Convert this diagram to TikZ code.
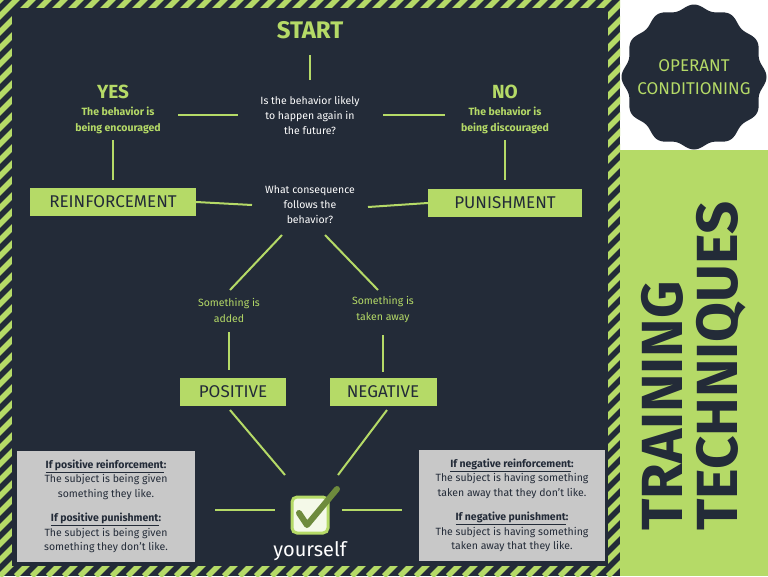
\documentclass[tikz,border=0pt]{standalone}
\usepackage{fontspec}
\setmainfont{Fira Sans}
\definecolor{dk}{HTML}{232B38}
\definecolor{gr}{HTML}{B5DA67}
\definecolor{gy}{HTML}{C8C8C8}
\definecolor{ck}{HTML}{6E8B3D}
\begin{document}
\begin{tikzpicture}[x=1pt,y=-1pt,
  ln/.style={draw=gr,line width=2pt},
  gbox/.style={fill=gr,text=dk,font=\fontsize{17}{18}\selectfont,minimum height=28pt,inner xsep=4pt},
  qtext/.style={text=white,font=\fontsize{10.5}{15}\selectfont,align=center},
  gtext/.style={text=gr,font=\fontsize{10.5}{16}\selectfont\bfseries,align=center},
  ttl/.style={text=gr,font=\fontsize{19}{20}\selectfont\bfseries},
  note/.style={fill=gy,text=dk,font=\fontsize{10.5}{14.5}\selectfont,align=center,inner sep=0pt}]
\useasboundingbox (0,0) rectangle (768,576);
\fill[dk] (0,0) rectangle (620,576);
\fill[white] (620,0) rectangle (768,150);
\fill[gr] (620,150) rectangle (768,576);
% striped frame
\begin{scope}
\clip (0,0) rectangle (620,576);
\foreach \i in {-40,...,80} \draw[gr,line width=5.5pt] (\i*16,576) -- ++(600,-600);
\end{scope}
\fill[dk] (12,8) rectangle (608,566);
% badge
\fill[dk] plot[domain=0:360,samples=241,smooth] ({694+70*cos(\x)+2.5*cos(12*\x)*cos(\x)},{77+70*sin(\x)+2.5*cos(12*\x)*sin(\x)}) -- cycle;
\node[text=gr,font=\fontsize{17}{23}\selectfont,align=center] (oc) at (694,77) {OPERANT\\CONDITIONING};
\node[rotate=90,anchor=south west,text=dk,font=\fontsize{58}{58}\selectfont\bfseries,inner sep=0pt] (tr) at (684,531) {TRAINING};
\node[rotate=90,anchor=south west,text=dk,font=\fontsize{58}{58}\selectfont\bfseries,inner sep=0pt] (te) at (746,531) {TECHNIQUES};
% flow
\node[text=gr,font=\fontsize{24}{26}\selectfont\bfseries] (start) at (310,30) {START};
\node[qtext] (q1) at (310,115) {Is the behavior likely\\to happen again in\\the future?};
\node[ttl] (yes) at (113,92) {YES};
\node[gtext] (enc) at (118,120) {The behavior is\\being encouraged};
\node[ttl] (no) at (505,92) {NO};
\node[gtext] (dis) at (505,120) {The behavior is\\being discouraged};
\node[gbox,minimum width=166pt] (rein) at (113,202) {REINFORCEMENT};
\node[gbox,minimum width=154pt] (pun) at (505,203) {PUNISHMENT};
\node[qtext] (q2) at (310,205) {What consequence\\follows the\\behavior?};
\node[gtext,font=\fontsize{10.5}{16}\selectfont] (add) at (229,310) {Something is\\added};
\node[gtext,font=\fontsize{10.5}{16}\selectfont] (away) at (383,310) {Something is\\taken away};
\node[gbox,minimum width=106pt] (pos) at (233,392) {POSITIVE};
\node[gbox,minimum width=107pt] (neg) at (383,392) {NEGATIVE};
\node[draw=gr,fill=white!85!gr,line width=3pt,rounded corners=5pt,minimum size=36pt] (chk) at (310,515) {};
\draw[ck,line width=6pt,line cap=round,line join=round] ([shift={(-11,-2)}]chk.center) -- ([shift={(-3,10)}]chk.center) -- ([shift={(27,-26)}]chk.center);
\node[text=white,font=\fontsize{20}{22}\selectfont] (you) at (310,551) {yourself};
\coordinate (s1) at (310,55); \coordinate (s2) at (310,80);
\draw[ln] (s1) -- (s2);
\draw[ln] (178,115) -- (238,115);
\draw[ln] (383,115) -- (445,115);
\draw[ln] (113,140) -- (113,180);
\draw[ln] (505,140) -- (505,180);
\draw[ln] (rein.east) -- (252,205);
\draw[ln] (368,207) -- (pun.west);
\draw[ln] (282,235) -- (230,290);
\draw[ln] (325,235) -- (378,290);
\draw[ln] (229,332) -- (229,370);
\draw[ln] (383,335) -- (383,372);
\draw[ln] (230,410) -- (285,475);
\draw[ln] (387,410) -- (338,475);
\draw[ln] (215,510) -- (275,510);
\draw[ln] (342,510) -- (402,510);
\node[note,minimum width=178pt,minimum height=111pt] (nl) at (106,506.5) {\textbf{\underline{If positive reinforcement}:}\\The subject is being given\\something they like.\\[10pt]\textbf{\underline{If positive punishment}:}\\The subject is being given\\something they don't like.};
\node[note,minimum width=186pt,minimum height=111pt] (nr) at (512,505.5) {\textbf{\underline{If negative reinforcement}:}\\The subject is having something\\taken away that they don't like.\\[10pt]\textbf{\underline{If negative punishment}:}\\The subject is having something\\taken away that they like.};
\end{tikzpicture}
\end{document}
